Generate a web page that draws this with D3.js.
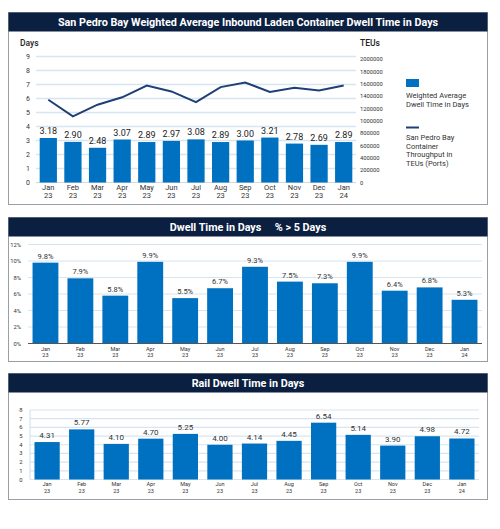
<!DOCTYPE html>
<html lang="en">
<head>
<meta charset="UTF-8">
<title>San Pedro Bay Dwell Time</title>
<script src="https://d3js.org/d3.v7.min.js"></script>
<style>
  body { margin: 0; background: #fff; }
  text { font-family: Roboto, "Liberation Sans", sans-serif; white-space: pre; }
</style>
</head>
<body>
<svg id="main" width="500" height="529" viewBox="0 0 500 529"></svg>
<script>
    const months = ['Jan 23','Feb 23','Mar 23','Apr 23','May 23','Jun 23','Jul 23',
        'Aug 23','Sep 23','Oct 23','Nov 23','Dec 23','Jan 24'];
    const dwellDays = [3.18, 2.90, 2.48, 3.07, 2.89, 2.97, 3.08, 2.89, 3.00, 3.21, 2.78, 2.69, 2.89];
    const teus = [1340000, 1070000, 1260000, 1380000, 1570000, 1475000, 1300000,
        1545000, 1620000, 1465000, 1535000, 1490000, 1570000];
    const pctOver5 = [9.8, 7.9, 5.8, 9.9, 5.5, 6.7, 9.3, 7.5, 7.3, 9.9, 6.4, 6.8, 5.3];
    const railDwell = [4.31, 5.77, 4.10, 4.70, 5.25, 4.00, 4.14, 4.45, 6.54, 5.14, 3.90, 4.98, 4.72];
    const daysTicks = d3.range(0, 10);
    const teuTicks = d3.range(0, 2000001, 200000);
    const pctTicks = [0, 2, 4, 6, 8, 10, 12];
    const railTicks = d3.range(0, 9);

    const navy = '#0b1f41';
    const barBlue = '#0070c0';
    const lineNavy = '#1f3f77';
    const grid = '#d5e5f2';
    const txt = '#333';

    const svg = d3.select('svg#main');

    function panel(y0, y1, title) {
        svg.append('rect').attr('x', 8.5).attr('y', y0 + 0.5).attr('width', 479).attr('height', y1 - y0)
            .attr('fill', '#fff').attr('stroke', '#9a9ea6').attr('stroke-width', 1);
        svg.append('rect').attr('x', 8.5).attr('y', y0 + 0.5).attr('width', 479).attr('height', 19)
            .attr('fill', navy);
        svg.append('text').attr('x', 248).attr('y', y0 + 14)
            .attr('text-anchor', 'middle').attr('fill', '#fff')
            .attr('font-weight', 'bold').attr('font-size', 10.8)
            .text(title);
    }

    function monthLabels(g, x, y, size, gap) {
        months.forEach(function(m) {
            const parts = m.split(' ');
            const t = g.append('text').attr('text-anchor', 'middle').attr('fill', txt)
                .attr('font-size', size);
            t.append('tspan').attr('x', x(m) + x.bandwidth() / 2).attr('y', y).text(parts[0]);
            t.append('tspan').attr('x', x(m) + x.bandwidth() / 2).attr('y', y + gap).text(parts[1]);
        });
    }

    // ---------- panel 1 ----------
    panel(12, 204, 'San Pedro Bay Weighted Average Inbound Laden Container Dwell Time in Days');
    const g1 = svg.append('g');
    const x1 = d3.scaleBand().domain(months).range([36, 356]).paddingInner(0.3).paddingOuter(0.15);
    const y1 = d3.scaleLinear().domain([0, 9]).range([182.5, 56.5]);
    const y1r = d3.scaleLinear().domain([0, 2000000]).range([182.5, 59]);

    g1.selectAll('line.grid').data(daysTicks.slice(1)).enter().append('line')
        .attr('x1', 36).attr('x2', 356)
        .attr('y1', d => y1(d)).attr('y2', d => y1(d))
        .attr('stroke', grid).attr('stroke-width', 1.5);
    g1.append('line').attr('x1', 36).attr('x2', 356).attr('y1', y1(0)).attr('y2', y1(0))
        .attr('stroke', '#cfd8e0').attr('stroke-width', 1);

    g1.selectAll('text.yl').data(daysTicks).enter().append('text')
        .attr('x', 30).attr('y', d => y1(d) + 2.5).attr('text-anchor', 'end')
        .attr('font-size', 7).attr('fill', txt).text(d => d);
    g1.append('text').attr('x', 20).attr('y', 46).attr('font-size', 8.5).attr('fill', '#222')
        .attr('font-weight', 500).text('Days');

    g1.selectAll('text.yr').data(teuTicks).enter().append('text')
        .attr('x', 360).attr('y', d => y1r(d) + 2.3)
        .attr('font-size', 5.8).attr('fill', txt).text(d => d);
    g1.append('text').attr('x', 360).attr('y', 46).attr('font-size', 8.5).attr('fill', '#222')
        .attr('font-weight', 500).text('TEUs');

    g1.selectAll('rect.bar').data(dwellDays).enter().append('rect')
        .attr('x', (d, i) => x1(months[i])).attr('width', x1.bandwidth())
        .attr('y', d => y1(d)).attr('height', d => y1(0) - y1(d))
        .attr('fill', barBlue);
    g1.selectAll('text.bl').data(dwellDays).enter().append('text')
        .attr('x', (d, i) => x1(months[i]) + x1.bandwidth() / 2)
        .attr('y', d => y1(d) - 4).attr('text-anchor', 'middle')
        .attr('font-size', 9).attr('fill', '#222')
        .text(d => d.toFixed(2));

    const line1 = d3.line()
        .x((d, i) => x1(months[i]) + x1.bandwidth() / 2)
        .y(d => y1r(d));
    g1.append('path').datum(teus).attr('d', line1)
        .attr('fill', 'none').attr('stroke', lineNavy).attr('stroke-width', 2);

    monthLabels(g1, x1, 190, 7.5, 8);

    // legend
    g1.append('rect').attr('x', 406).attr('y', 79).attr('width', 13).attr('height', 8).attr('fill', barBlue);
    ['Weighted Average', 'Dwell Time in Days'].forEach(function(s, i) {
        g1.append('text').attr('x', 406).attr('y', 98 + i * 8.5).attr('font-size', 7.5)
            .attr('fill', txt).text(s);
    });
    g1.append('line').attr('x1', 406).attr('x2', 419).attr('y1', 127.5).attr('y2', 127.5)
        .attr('stroke', lineNavy).attr('stroke-width', 2);
    ['San Pedro Bay', 'Container', 'Throughput in', 'TEUs (Ports)'].forEach(function(s, i) {
        g1.append('text').attr('x', 406).attr('y', 140 + i * 8.5).attr('font-size', 7.5)
            .attr('fill', txt).text(s);
    });

    // ---------- panel 2 ----------
    panel(217, 361, 'Dwell Time in Days     % > 5 Days');
    const g2 = svg.append('g');
    const x2 = d3.scaleBand().domain(months).range([28, 482]).paddingInner(0.26).paddingOuter(0.13);
    const y2 = d3.scaleLinear().domain([0, 12]).range([343.5, 244.5]);

    g2.selectAll('line.grid').data(pctTicks.slice(1)).enter().append('line')
        .attr('x1', 28).attr('x2', 482)
        .attr('y1', d => y2(d)).attr('y2', d => y2(d))
        .attr('stroke', grid).attr('stroke-width', 1.2);
    g2.selectAll('text.yl').data(pctTicks).enter().append('text')
        .attr('x', 21).attr('y', d => y2(d) + 2).attr('text-anchor', 'end')
        .attr('font-size', 5.8).attr('fill', txt).text(d => d + '%');

    g2.selectAll('rect.bar').data(pctOver5).enter().append('rect')
        .attr('x', (d, i) => x2(months[i])).attr('width', x2.bandwidth())
        .attr('y', d => y2(d)).attr('height', d => y2(0) - y2(d))
        .attr('fill', barBlue);
    g2.append('line').attr('x1', 28).attr('x2', 482).attr('y1', y2(0)).attr('y2', y2(0))
        .attr('stroke', '#555').attr('stroke-width', 1);
    g2.selectAll('text.bl').data(pctOver5).enter().append('text')
        .attr('x', (d, i) => x2(months[i]) + x2.bandwidth() / 2)
        .attr('y', d => y2(d) - 4).attr('text-anchor', 'middle')
        .attr('font-size', 7.5).attr('fill', '#333')
        .text(d => d.toFixed(1) + '%');
    monthLabels(g2, x2, 351, 5.5, 6);

    // ---------- panel 3 ----------
    panel(373, 499, 'Rail Dwell Time in Days');
    const g3 = svg.append('g');
    const x3 = d3.scaleBand().domain(months).range([30, 479]).paddingInner(0.27).paddingOuter(0.13);
    const y3 = d3.scaleLinear().domain([0, 8]).range([479.5, 410]);

    g3.selectAll('line.grid').data(railTicks).enter().append('line')
        .attr('x1', 30).attr('x2', 479)
        .attr('y1', d => y3(d)).attr('y2', d => y3(d))
        .attr('stroke', grid).attr('stroke-width', 1.2);
    g3.append('line').attr('x1', 30).attr('x2', 30).attr('y1', y3(8)).attr('y2', y3(0))
        .attr('stroke', grid).attr('stroke-width', 1.2);
    g3.selectAll('text.yl').data(railTicks).enter().append('text')
        .attr('x', 21).attr('y', d => y3(d) + 2).attr('text-anchor', 'middle')
        .attr('font-size', 5.8).attr('fill', txt).text(d => d);

    g3.selectAll('rect.bar').data(railDwell).enter().append('rect')
        .attr('x', (d, i) => x3(months[i])).attr('width', x3.bandwidth())
        .attr('y', d => y3(d)).attr('height', d => y3(0) - y3(d))
        .attr('fill', barBlue);
    g3.selectAll('text.bl').data(railDwell).enter().append('text')
        .attr('x', (d, i) => x3(months[i]) + x3.bandwidth() / 2)
        .attr('y', d => y3(d) - 4).attr('text-anchor', 'middle')
        .attr('font-size', 8).attr('fill', '#333')
        .text(d => d.toFixed(2));
    monthLabels(g3, x3, 486, 5.5, 6.5);
</script>
</body>
</html>
